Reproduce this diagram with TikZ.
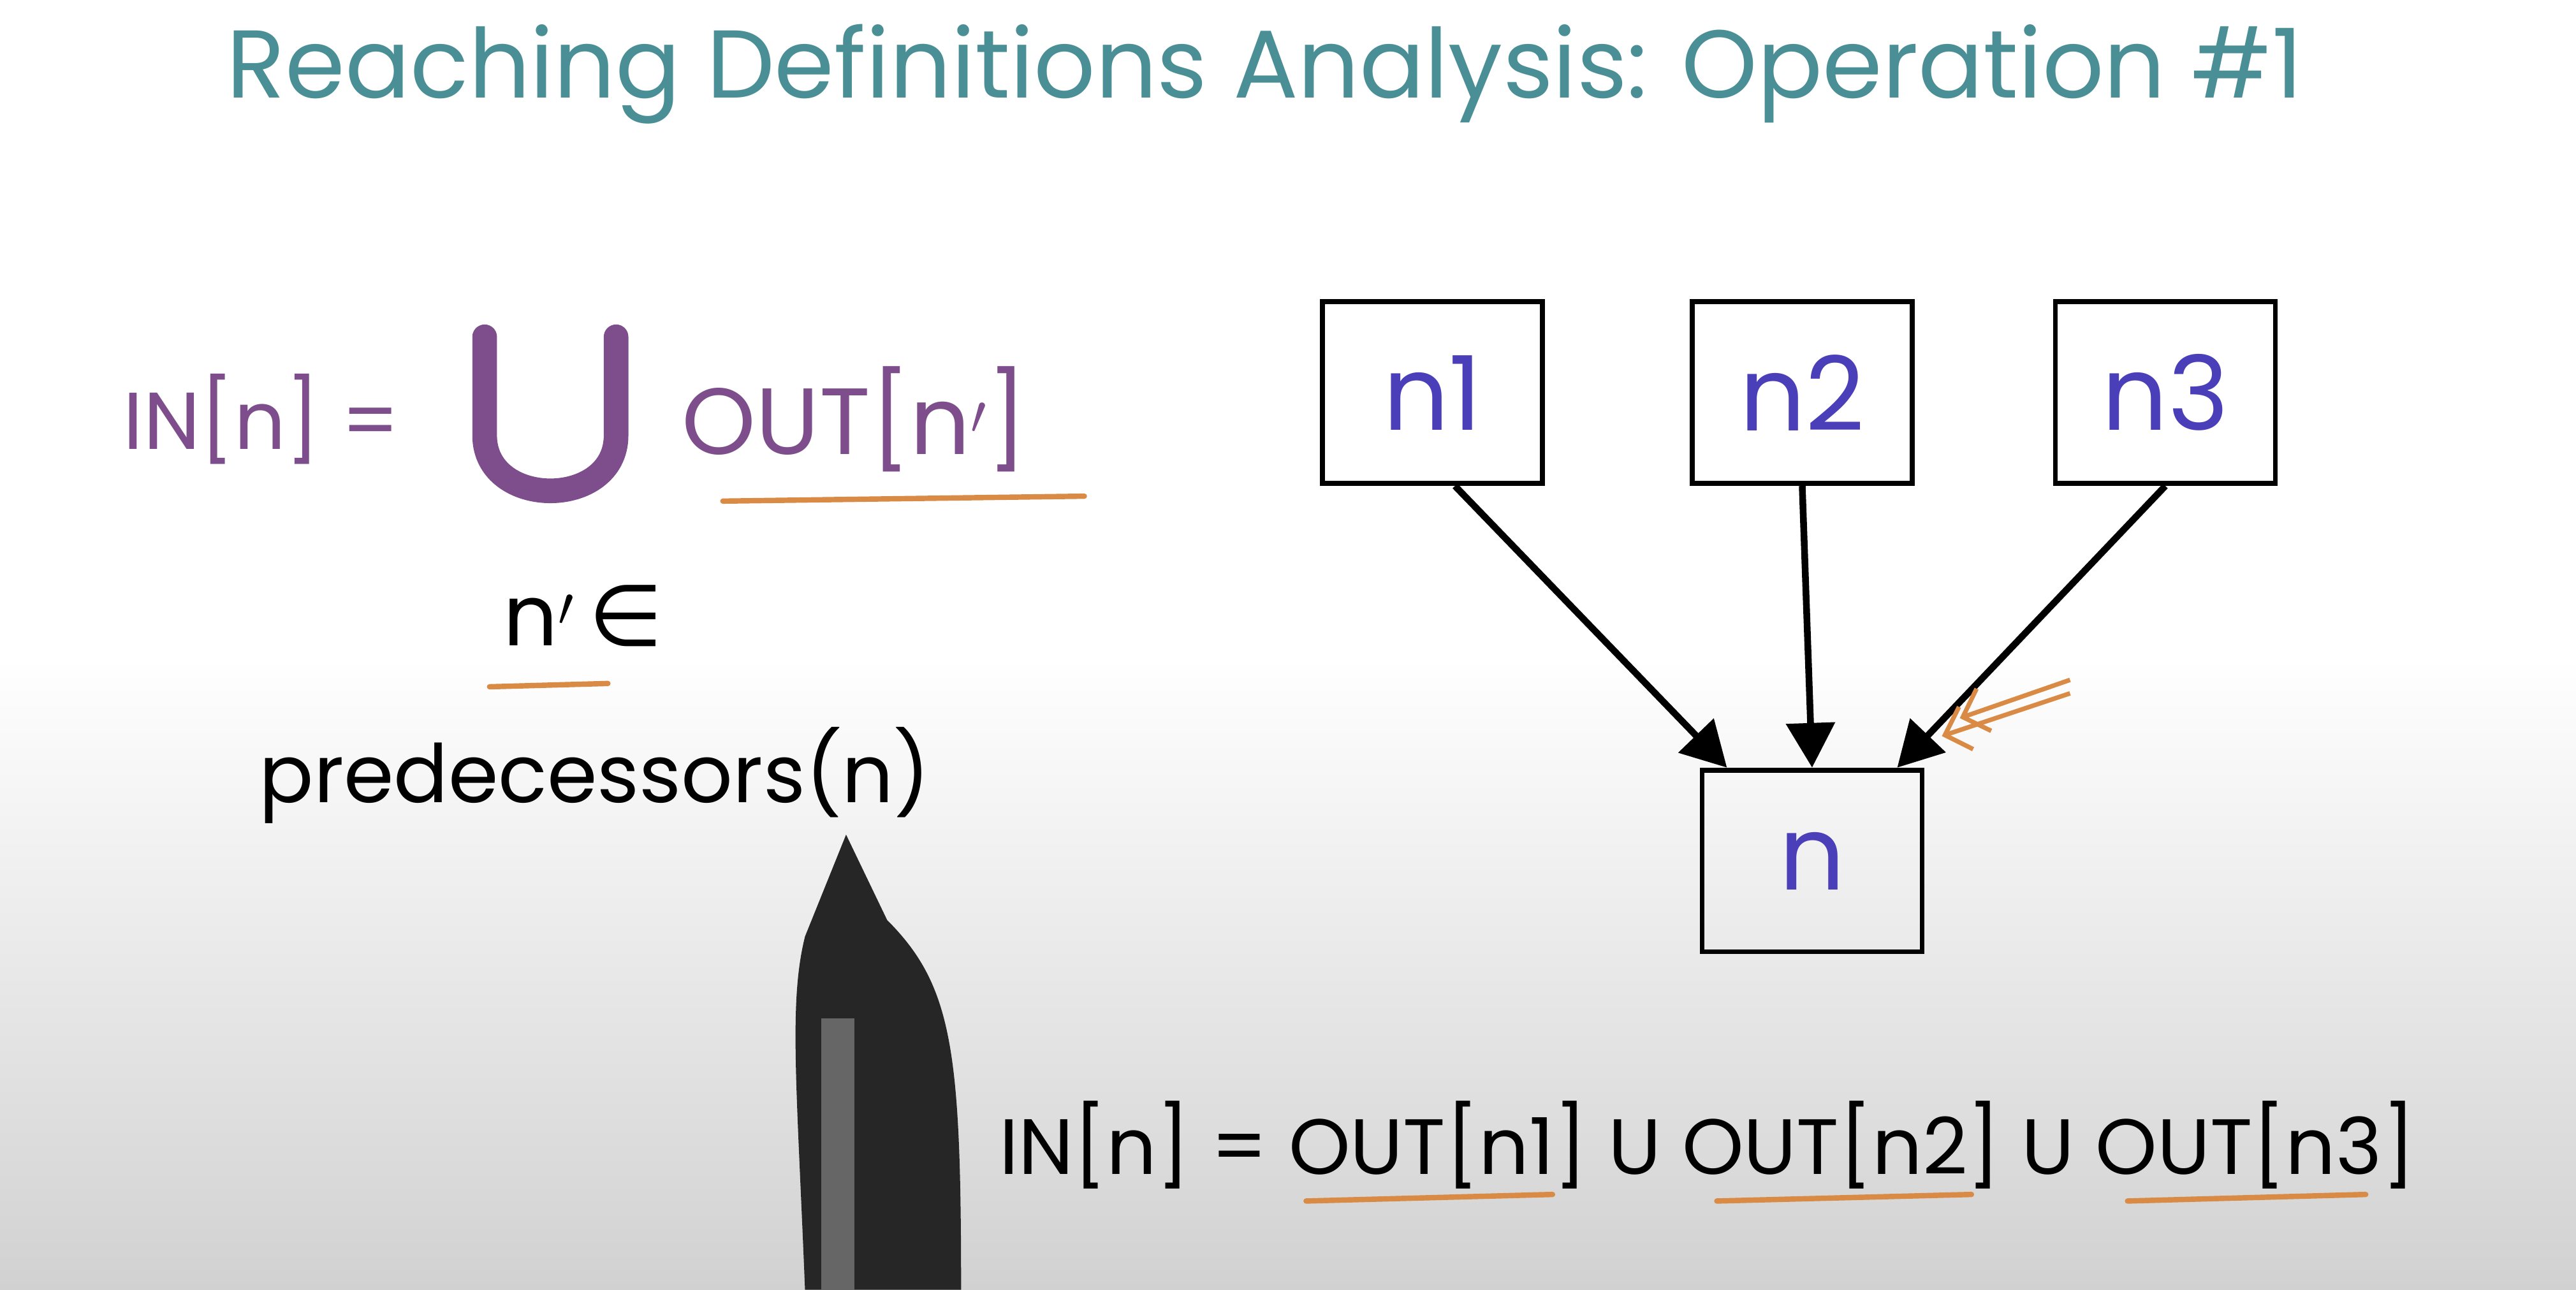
\documentclass[tikz,border=0pt]{standalone}
\usepackage{fontspec}
\setmainfont{Poppins}
\newfontfamily\symf{DejaVu Sans}
\usetikzlibrary{arrows.meta}
\definecolor{teal1}{HTML}{4A8F96}
\definecolor{purp}{HTML}{7E4E8C}
\definecolor{bluev}{HTML}{4A3FB8}
\definecolor{orng}{HTML}{D98A45}
\tikzset{
 box/.style={draw=black,line width=2.2pt,minimum width=3.45cm,minimum height=2.85cm,inner sep=0pt,text=bluev,font=\fontsize{46}{50}\selectfont},
 arr/.style={line width=3pt,-{Triangle[length=0.7cm,width=0.75cm]}},
 ul/.style={orng,line width=2.4pt,line cap=round},
 purpt/.style={text=purp,inner sep=0pt,font=\fontsize{36}{40}\selectfont},
 blk/.style={text=black,inner sep=0pt,font=\fontsize{36}{40}\selectfont},
}
\begin{document}
\begin{tikzpicture}[x=0.02577cm,y=-0.02577cm]
\shade[top color=white,bottom color=black!18] (0,400) rectangle (1568,785);
\useasboundingbox (0,0) rectangle (1568,785);
\node[text=teal1,font=\fontsize{43}{48}\selectfont] (title) at (770,45) {Reaching Definitions Analysis: Operation \#1};
% left formula
\node[purpt,anchor=west] (inn) at (75,255) {IN[n] =};
\coordinate (c1) at (295,205); \coordinate (c2) at (375,205);
\draw[purp,line width=11pt,line cap=round] (c1) -- (295,265) .. controls (295,310) and (375,310) .. (375,265) -- (c2);
\node[purpt,anchor=west,font=\fontsize{42}{46}\selectfont] (outn) at (415,255) {OUT[n$'$]};
\coordinate (u1a) at (440,305); \coordinate (u1b) at (660,302);
\draw[ul] (u1a) -- (u1b);
\node[blk,font=\fontsize{38}{42}\selectfont] (nin) at (355,375) {n$'$\,{\symf ∈}};
\coordinate (u2a) at (298,418); \coordinate (u2b) at (370,416);
\draw[ul] (u2a) -- (u2b);
\node[blk,font=\fontsize{36}{40}\selectfont] (pred) at (362,472) {predecessors(n)};
% boxes
\node[box] (n1) at (872,239) {n1};
\node[box] (n2) at (1097,239) {n2};
\node[box] (n3) at (1318,239) {n3};
\node[box] (n) at (1103,524) {n};
\draw[arr] ([xshift=10]n1.south) -- ([xshift=-38]n.north);
\draw[arr] (n2.south) -- (n.north);
\draw[arr] (n3.south) -- ([xshift=38]n.north);
\coordinate (o1) at (1260,422); \coordinate (o2) at (1182,448);
\draw[orng,line width=2pt,-{Straight Barb[length=0.35cm]}] (o1) -- (o2);
\draw[orng,line width=2pt,-{Straight Barb[length=0.35cm]}] ([yshift=6]o1) -- ([xshift=8,yshift=8]o2);
% bottom formula
\node[blk,anchor=west,font=\fontsize{35}{40}\selectfont] (bot) at (608,697) {IN[n] = OUT[n1] U OUT[n2] U OUT[n3]};
\draw[ul] (795,731) -- (945,727);
\draw[ul] (1045,731) -- (1200,727);
\draw[ul] (1295,731) -- (1440,727);
% pen
\fill[black!85] (515,508) -- (540,560) .. controls (580,600) and (585,640) .. (585,785) -- (490,785) .. controls (485,660) and (480,610) .. (490,570) -- cycle;
\fill[black!60] (500,620) rectangle (520,785);
\end{tikzpicture}
\end{document}
